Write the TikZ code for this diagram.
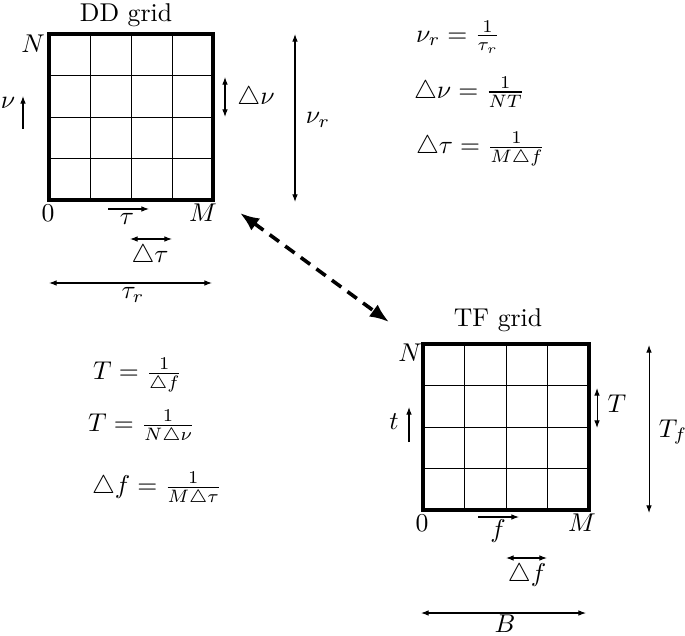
\documentclass[tikz,border=0pt]{standalone}
\usepackage{tikz}
\usetikzlibrary{arrows.meta, positioning}

\begin{document}
\begin{tikzpicture}[x=0.389pt, y=-0.389pt,
  frame/.style={line width=1.2pt},
  cell/.style={line width=0.35pt},
  axis/.style={-{Latex[length=3pt,width=2.2pt]}, line width=0.4pt},
  span/.style={{Latex[length=3pt,width=2.2pt]}-{Latex[length=3pt,width=2.2pt]}, line width=0.4pt},
  link/.style={{Latex[length=7.5pt,width=5.8pt]}-{Latex[length=7.5pt,width=5.8pt]}, line width=1.4pt, dash pattern=on 4.5pt off 3pt},
  lbl/.style={inner sep=1pt}]
  \useasboundingbox (0,0) rectangle (685,636);

  % DD grid
  \foreach \i in {1,2,3} {
    \draw[cell] (49+41*\i,34) -- (49+41*\i,200);
    \draw[cell] (49,34+41.5*\i) -- (213,34+41.5*\i);
  }
  \draw[frame] (49,200) rectangle (213,34);
  \node[lbl] (ddtitle) at (126,15) {DD grid};
  \node[lbl] (ddN) at (33,44) {$N$};
  \node[lbl] (dd0) at (48,213) {$0$};
  \node[lbl] (ddM) at (203,213) {$M$};

  \coordinate (tau-a) at (108,209);
  \coordinate (tau-b) at (149,209);
  \node[lbl] (tau) at (127,219) {$\tau$};
  \draw[axis] (tau-a) -- (tau-b);

  \coordinate (dtau-a) at (130,239);
  \coordinate (dtau-b) at (172,239);
  \node[lbl] (dtau) at (150,256) {$\triangle\tau$};
  \draw[span] (dtau-a) -- (dtau-b);

  \coordinate (taur-a) at (49,283);
  \coordinate (taur-b) at (212,283);
  \node[lbl] (taur) at (133,295) {$\tau_r$};
  \draw[span] (taur-a) -- (taur-b);

  \coordinate (nu-a) at (23,129);
  \coordinate (nu-b) at (23,96);
  \node[lbl] (nu) at (8,103) {$\nu$};
  \draw[axis] (nu-a) -- (nu-b);

  \coordinate (dnu-a) at (225,77);
  \coordinate (dnu-b) at (225,117);
  \node[lbl] (dnu) at (256,98) {$\triangle\nu$};
  \draw[span] (dnu-a) -- (dnu-b);

  \coordinate (nur-a) at (295,34);
  \coordinate (nur-b) at (295,202);
  \node[lbl] (nur) at (318,120) {$\nu_r$};
  \draw[span] (nur-a) -- (nur-b);

  % relations
  \node[lbl, anchor=west] (eq1) at (413,37) {$\nu_r = \frac{1}{\tau_r}$};
  \node[lbl, anchor=west] (eq2) at (411,92) {$\triangle\nu = \frac{1}{NT}$};
  \node[lbl, anchor=west] (eq3) at (413,149) {$\triangle\tau = \frac{1}{M\triangle f}$};
  \node[lbl, anchor=west] (eq4) at (90,375) {$T = \frac{1}{\triangle f}$};
  \node[lbl, anchor=west] (eq5) at (85,427) {$T = \frac{1}{N\triangle\nu}$};
  \node[lbl, anchor=west] (eq6) at (89,489) {$\triangle f = \frac{1}{M\triangle\tau}$};

  % TF grid
  \foreach \i in {1,2,3} {
    \draw[cell] (423+41.5*\i,344) -- (423+41.5*\i,510);
    \draw[cell] (423,344+41.5*\i) -- (589,344+41.5*\i);
  }
  \draw[frame] (423,510) rectangle (589,344);
  \node[lbl] (tftitle) at (498,320) {TF grid};
  \node[lbl] (tfN) at (410,353) {$N$};
  \node[lbl] (tf0) at (422,523) {$0$};
  \node[lbl] (tfM) at (582,523) {$M$};

  \coordinate (f-a) at (478,517);
  \coordinate (f-b) at (519,517);
  \node[lbl] (f) at (498,531) {$f$};
  \draw[axis] (f-a) -- (f-b);

  \coordinate (df-a) at (506,558);
  \coordinate (df-b) at (547,558);
  \node[lbl] (df) at (527,575) {$\triangle f$};
  \draw[span] (df-a) -- (df-b);

  \coordinate (bw-a) at (421,613);
  \coordinate (bw-b) at (586,613);
  \node[lbl] (bw) at (505,624) {$B$};
  \draw[span] (bw-a) -- (bw-b);

  \coordinate (t-a) at (409,442);
  \coordinate (t-b) at (409,407);
  \node[lbl] (t) at (394,422) {$t$};
  \draw[axis] (t-a) -- (t-b);

  \coordinate (tt-a) at (597,388);
  \coordinate (tt-b) at (597,428);
  \node[lbl] (tt) at (617,404) {$T$};
  \draw[span] (tt-a) -- (tt-b);

  \coordinate (tf-a) at (649,345);
  \coordinate (tf-b) at (649,513);
  \node[lbl] (tfr) at (673,432) {$T_f$};
  \draw[span] (tf-a) -- (tf-b);

  % DD <-> TF
  \coordinate (link-a) at (240,213);
  \coordinate (link-b) at (389,322);
  \draw[link] (link-a) -- (link-b);
\end{tikzpicture}
\end{document}
